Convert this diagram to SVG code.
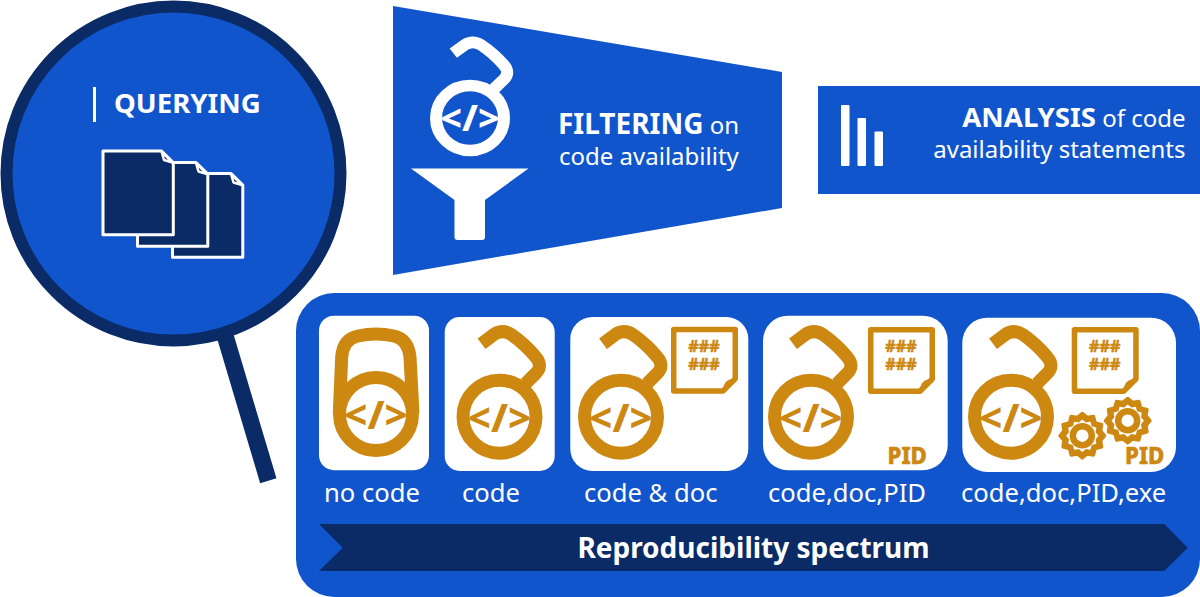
<svg xmlns="http://www.w3.org/2000/svg" width="1200" height="597" viewBox="0 0 1200 597">
<style>
text{font-family:"Noto Sans","Open Sans","DejaVu Sans",sans-serif;fill:#fff}
.blue{fill:#1155cc}
.dark{fill:#0a2b66}
.b{font-weight:700}
.h{font-size:28px}
.h2{font-size:27.600px}
.t{font-size:24px}
.l{font-size:25.600px}
.white{fill:#fff}
.lockline{fill:none;stroke-width:13;stroke-linejoin:round}
.gold{color:#cd8812}
.code{font-size:40px;font-weight:800;text-anchor:middle}
.hash{font-size:16px;font-weight:800;text-anchor:middle;fill:#cd8812;stroke:#cd8812;stroke-width:.4px}
.pid{font-size:22.200px;font-weight:800;fill:#cd8812;stroke:#cd8812;stroke-width:.5px}
</style>
<defs>
<g id="ring">
<circle r="36.500" class="lockline" stroke="currentColor"/>
<text y="15" class="code" style="fill:currentColor">&lt;/&gt;</text>
</g>
<g id="openlock">
<use href="#ring"/>
<path class="lockline" stroke="currentColor" d="M-18,-73L-6,-82Q3,-88 12,-82Q25,-73 36,-60Q44,-51 36,-43L26,-33"/>
</g>
<g id="note">
<path d="M2.750,2.750H64.250V52L52,64.250H2.750Z" fill="#fff" stroke="#cd8812" stroke-width="5.500" stroke-linejoin="round"/>
<path d="M64,52Q52,52 52,64Z" fill="#cd8812"/>
<text x="33" y="25" class="hash">###</text>
<text x="33" y="43" class="hash">###</text>
</g>
<path id="star" d="M22.500,0L18.500,4.900L19.500,11.300L13,13L11.300,19.500L4.900,18.500L0,22.500L-4.900,18.500L-11.300,19.500L-13,13L-19.500,11.300L-18.500,4.900L-22.500,0L-18.500,-4.900L-19.500,-11.300L-13,-13L-11.300,-19.500L-4.900,-18.500L0,-22.500L4.900,-18.500L11.300,-19.500L13,-13L19.500,-11.300L18.500,-4.900Z"/>
<g id="gear">
<use href="#star" fill="#cd8812" stroke="#cd8812" stroke-width="3" stroke-linejoin="round"/>
<use href="#star" fill="#fff" transform="scale(.72)"/>
<circle r="9.500" fill="none" stroke="#cd8812" stroke-width="6.500"/>
</g>
<g id="page">
<path class="dark" stroke="#fff" stroke-width="3" stroke-linejoin="round" d="M1.500,1.500H60L71.800,13V85.200H1.500Z"/>
<path class="dark" stroke="#fff" stroke-width="2.500" stroke-linejoin="round" d="M60,2L62.500,10.500L71,13Z"/>
</g>
</defs>

<g id="connectors">
<path d="M225,335.400L268.300,480.800" fill="none" stroke="#0a2b66" stroke-width="17"/>
</g>

<g id="querying">
<circle cx="173.500" cy="173.500" r="167" class="blue" stroke="#0a2b66" stroke-width="12"/>
<rect x="93" y="87" width="3" height="35" class="white"/>
<text x="114" y="113" class="h2 b">QUERYING</text>
<use href="#page" x="171" y="172"/>
<use href="#page" x="136" y="161"/>
<use href="#page" x="101.500" y="149.500"/>
</g>

<g id="filtering">
<path d="M393,6L782,72V208L393,275Z" class="blue"/>
<use href="#openlock" transform="translate(470 118) scale(.93 .89)" color="#fff"/>
<path class="white" d="M411,168.500H528.500L485,200V237Q485,240 482,240H457.500Q454.500,240 454.500,237V200Z"/>
<text x="558" y="134"><tspan class="h b">FILTERING</tspan><tspan class="t"> on</tspan></text>
<text x="559" y="165" class="t">code availability</text>
</g>

<g id="analysis">
<rect x="818" y="86" width="382" height="108" class="blue"/>
<rect x="841" y="105" width="8.500" height="61" rx="1" class="white"/>
<rect x="857.500" y="118" width="8.500" height="48" rx="1" class="white"/>
<rect x="874.500" y="131.500" width="8.500" height="34.500" rx="1" class="white"/>
<text x="1185.500" y="126.500" text-anchor="end"><tspan class="h2 b">ANALYSIS</tspan><tspan class="t"> of code</tspan></text>
<text x="1185.500" y="158" text-anchor="end" class="t">availability statements</text>
</g>

<g id="panel">
<rect x="296" y="293" width="904" height="304" rx="38" class="blue"/>
</g>

<g id="no-code" class="gold">
<rect x="319" y="315.700" width="110" height="154.500" rx="15" class="white"/>
<use href="#ring" x="376" y="414"/>
<path class="lockline" stroke="currentColor" d="M339.300,413L341.700,357Q343,339 358,336Q376,332 394,336Q408,339 410,357L413,413"/>
<text x="324" y="502" class="l">no code</text>
</g>

<g id="code" class="gold">
<rect x="444.700" y="317" width="110" height="154" rx="15" class="white"/>
<use href="#openlock" x="499.500" y="416.700"/>
<text x="462" y="502" class="l">code</text>
</g>

<g id="code-doc" class="gold">
<rect x="570.300" y="317" width="178" height="154" rx="22" class="white"/>
<use href="#openlock" x="621" y="416.700"/>
<use href="#note" x="671" y="326.700"/>
<text x="584" y="502" class="l">code &amp; doc</text>
</g>

<g id="code-doc-pid" class="gold">
<rect x="763" y="315.700" width="184.700" height="154.500" rx="25" class="white"/>
<use href="#openlock" x="811" y="416.700"/>
<use href="#note" x="868" y="327"/>
<text x="887.500" y="464" class="pid">PID</text>
<text x="768" y="502" class="l">code,doc,PID</text>
</g>

<g id="code-doc-pid-exe" class="gold">
<rect x="962.300" y="317.700" width="213.700" height="154.300" rx="25" class="white"/>
<use href="#openlock" x="1011" y="416.700"/>
<use href="#note" x="1071.700" y="327"/>
<use href="#gear" x="1082.300" y="435.700"/>
<use href="#gear" x="1127.700" y="420.700"/>
<text x="1125" y="464" class="pid">PID</text>
<text x="961" y="502" class="l">code,doc,PID,exe</text>
</g>

<g id="spectrum">
<path d="M319,524H1164.300L1187.700,547.700L1164.300,571H319L342.700,547.700Z" class="dark"/>
<text x="753.500" y="558" text-anchor="middle" class="h b">Reproducibility spectrum</text>
</g>
</svg>
